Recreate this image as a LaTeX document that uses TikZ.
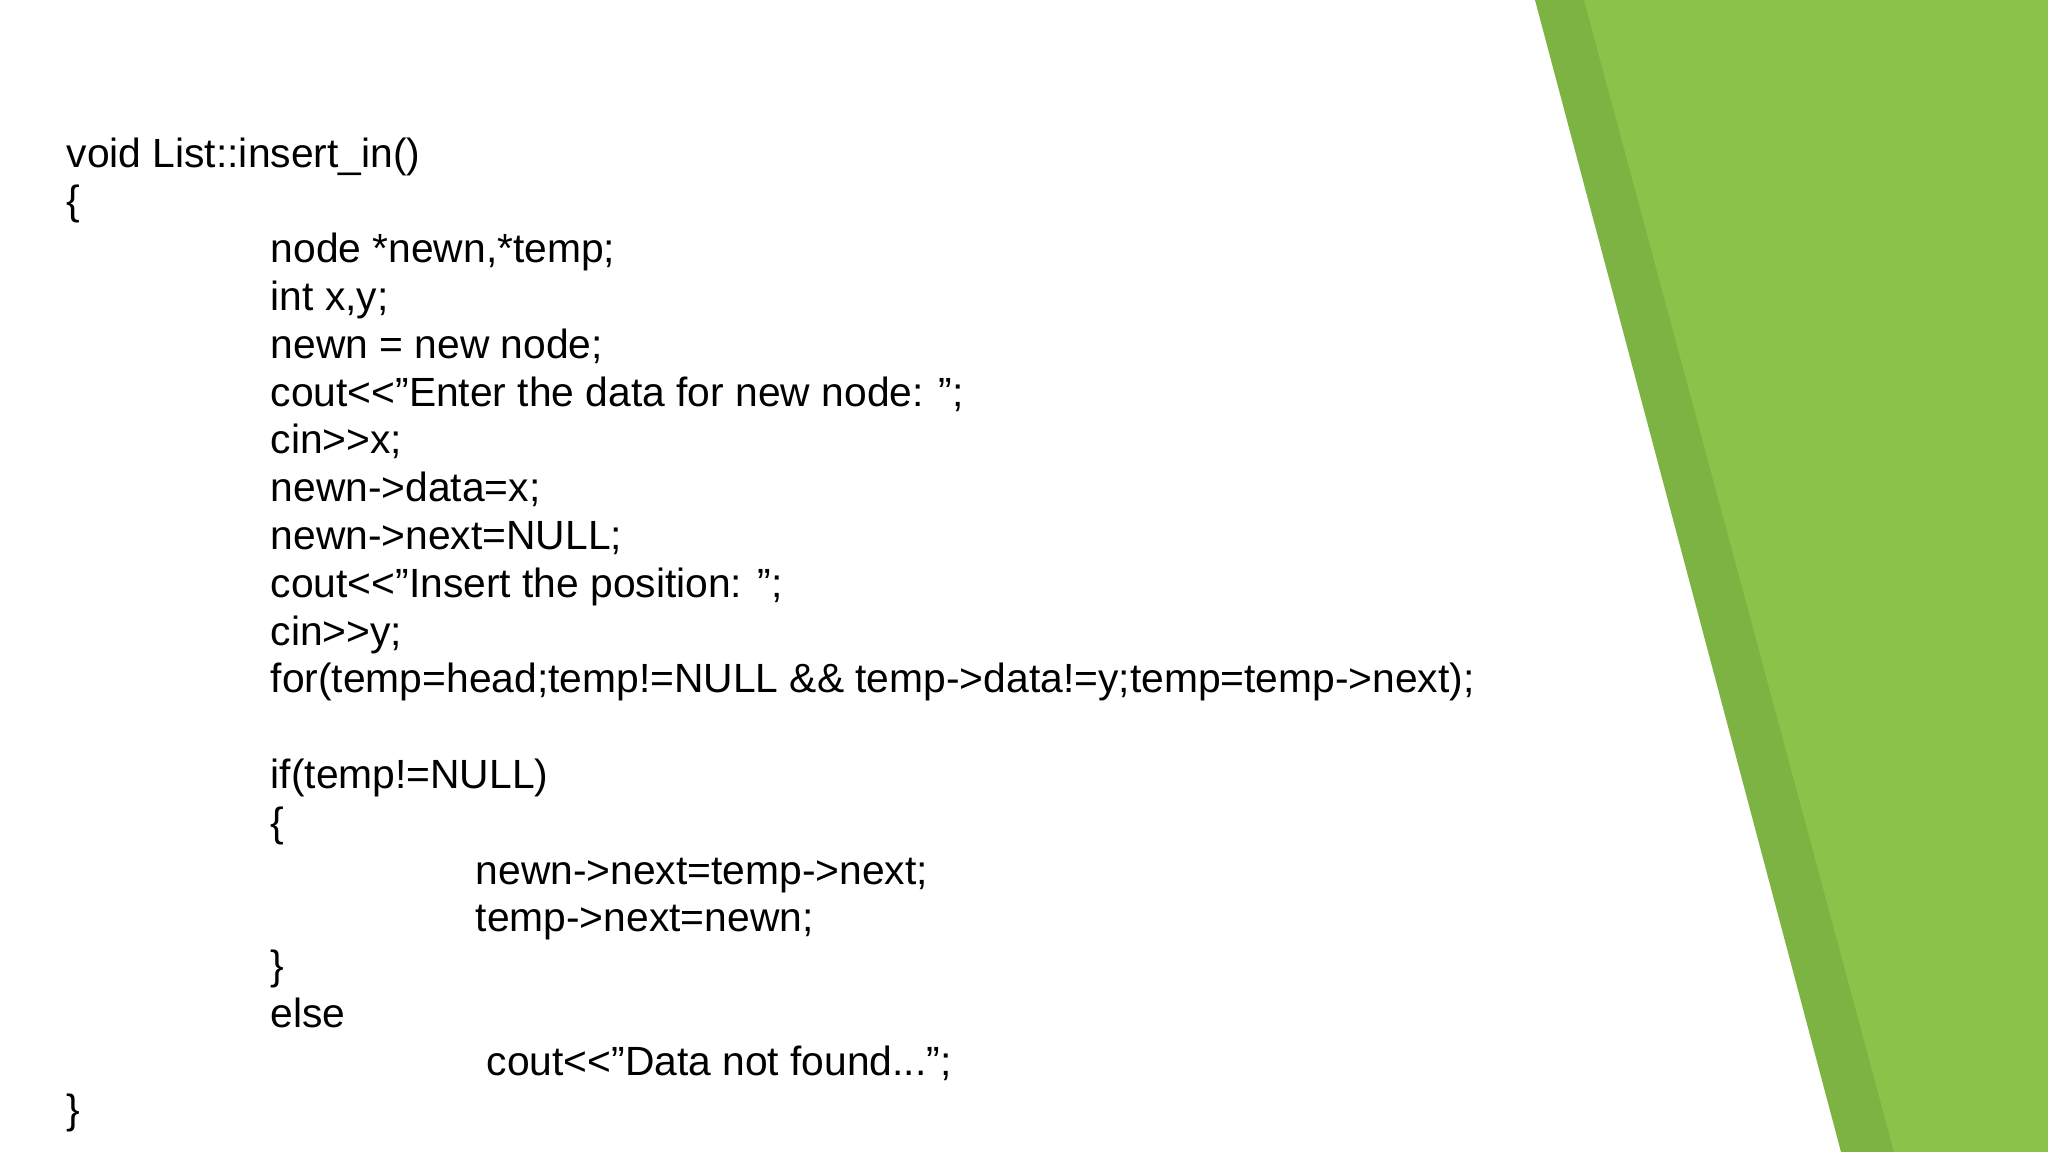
\documentclass[tikz,border=0pt]{standalone}
\usepackage{fontspec}
\setmainfont{Liberation Sans}
\definecolor{gdark}{HTML}{7CB342}
\definecolor{glight}{HTML}{8BC34A}
\begin{document}
\begin{tikzpicture}[x=0.01cm,y=0.01cm,code/.style={anchor=base west,inner sep=0pt,font=\fontsize{11.6pt}{13pt}\selectfont}]
\useasboundingbox (0,0) rectangle (2048,1152);
\fill[white] (0,0) rectangle (2048,1152);
\fill[gdark] (1535,1152) -- (2048,1152) -- (2048,0) -- (1841,0) -- cycle;
\fill[glight] (1584,1152) -- (2048,1152) -- (2048,0) -- (1894,0) -- cycle;
\def\by#1{\fpeval{1152-(128+36.6*#1)*1.306}}
\node[code] (l0) at (66,\by{0}) {void List::insert\_in()};
\node[code] (l1) at (66,\by{1}) {\{};
\node[code] (l2) at (270,\by{2}) {node *newn,*temp;};
\node[code] (l3) at (270,\by{3}) {int x,y;};
\node[code] (l4) at (270,\by{4}) {newn = new node;};
\node[code] (l5) at (270,\by{5}) {cout<{}<"Enter the data for new node: ";};
\node[code] (l6) at (270,\by{6}) {cin>{}>x;};
\node[code] (l7) at (270,\by{7}) {newn->data=x;};
\node[code] (l8) at (270,\by{8}) {newn->next=NULL;};
\node[code] (l9) at (270,\by{9}) {cout<{}<"Insert the position: ";};
\node[code] (l10) at (270,\by{10}) {cin>{}>y;};
\node[code] (l11) at (270,\by{11}) {for(temp=head;temp!=NULL \&\& temp->data!=y;temp=temp->next);};
\node[code] (l13) at (270,\by{13}) {if(temp!=NULL)};
\node[code] (l14) at (270,\by{14}) {\{};
\node[code] (l15) at (475,\by{15}) {newn->next=temp->next;};
\node[code] (l16) at (475,\by{16}) {temp->next=newn;};
\node[code] (l17) at (270,\by{17}) {\}};
\node[code] (l18) at (270,\by{18}) {else};
\node[code] (l19) at (486,\by{19}) {cout<{}<"Data not found...";};
\node[code] (l20) at (66,\by{20}) {\}};
\end{tikzpicture}
\end{document}
